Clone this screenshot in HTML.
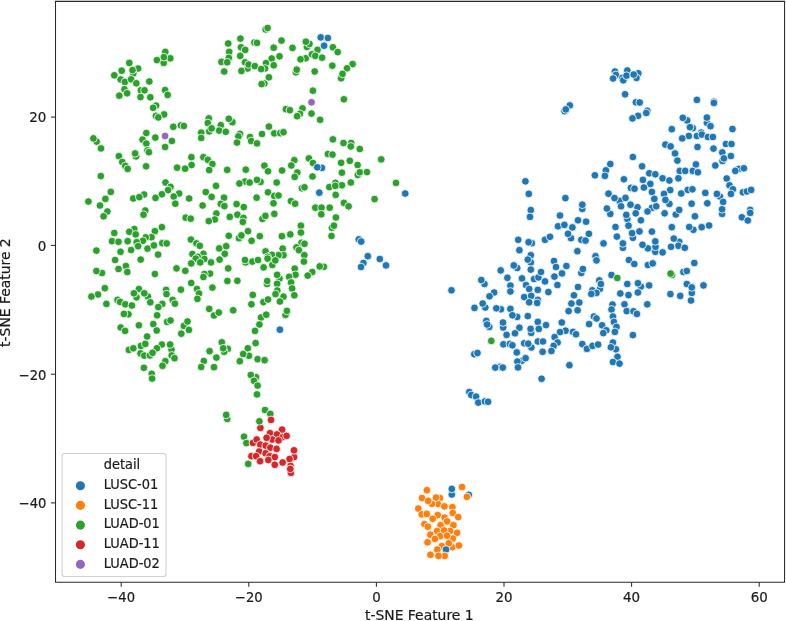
<!DOCTYPE html>
<html><head><meta charset="utf-8"><title>t-SNE scatter</title>
<style>html,body{margin:0;padding:0;background:#fff}svg{display:block}</style>
</head><body>
<svg width="786" height="621" viewBox="0 0 786 621">
<rect x="0" y="0" width="786" height="621" fill="#fff"/>
<g stroke="#fff" stroke-width="0.8">
<circle cx="165.3" cy="51.9" r="3.85" fill="#2ca02c"/>
<circle cx="170.3" cy="58.3" r="3.85" fill="#2ca02c"/>
<circle cx="156.9" cy="60.1" r="3.85" fill="#2ca02c"/>
<circle cx="163.7" cy="62.9" r="3.85" fill="#2ca02c"/>
<circle cx="163.9" cy="57.1" r="3.85" fill="#2ca02c"/>
<circle cx="129.3" cy="62.9" r="3.85" fill="#2ca02c"/>
<circle cx="138.1" cy="68.5" r="3.85" fill="#2ca02c"/>
<circle cx="133.3" cy="73.5" r="3.85" fill="#2ca02c"/>
<circle cx="132.5" cy="70.1" r="3.85" fill="#2ca02c"/>
<circle cx="121.7" cy="70.7" r="3.85" fill="#2ca02c"/>
<circle cx="114.3" cy="75.3" r="3.85" fill="#2ca02c"/>
<circle cx="120.7" cy="79.5" r="3.85" fill="#2ca02c"/>
<circle cx="124.9" cy="81.9" r="3.85" fill="#2ca02c"/>
<circle cx="131.1" cy="79.3" r="3.85" fill="#2ca02c"/>
<circle cx="136.3" cy="83.3" r="3.85" fill="#2ca02c"/>
<circle cx="149.3" cy="81.5" r="3.85" fill="#2ca02c"/>
<circle cx="124.5" cy="89.3" r="3.85" fill="#2ca02c"/>
<circle cx="127.1" cy="93.3" r="3.85" fill="#2ca02c"/>
<circle cx="119.3" cy="95.7" r="3.85" fill="#2ca02c"/>
<circle cx="140.9" cy="90.3" r="3.85" fill="#2ca02c"/>
<circle cx="144.5" cy="90.3" r="3.85" fill="#2ca02c"/>
<circle cx="140.5" cy="97.1" r="3.85" fill="#2ca02c"/>
<circle cx="150.3" cy="97.3" r="3.85" fill="#2ca02c"/>
<circle cx="165.1" cy="90.1" r="3.85" fill="#2ca02c"/>
<circle cx="167.7" cy="94.9" r="3.85" fill="#2ca02c"/>
<circle cx="156.1" cy="105.6" r="3.85" fill="#2ca02c"/>
<circle cx="153.1" cy="107.8" r="3.85" fill="#2ca02c"/>
<circle cx="164.1" cy="114.4" r="3.85" fill="#2ca02c"/>
<circle cx="155.9" cy="115.8" r="3.85" fill="#2ca02c"/>
<circle cx="158.3" cy="117.4" r="3.85" fill="#2ca02c"/>
<circle cx="173.3" cy="126.8" r="3.85" fill="#2ca02c"/>
<circle cx="180.9" cy="125.4" r="3.85" fill="#2ca02c"/>
<circle cx="183.9" cy="126.0" r="3.85" fill="#2ca02c"/>
<circle cx="146.3" cy="133.0" r="3.85" fill="#2ca02c"/>
<circle cx="228.2" cy="43.5" r="3.85" fill="#2ca02c"/>
<circle cx="229.2" cy="51.9" r="3.85" fill="#2ca02c"/>
<circle cx="228.8" cy="57.9" r="3.85" fill="#2ca02c"/>
<circle cx="221.4" cy="61.9" r="3.85" fill="#2ca02c"/>
<circle cx="227.2" cy="62.3" r="3.85" fill="#2ca02c"/>
<circle cx="224.2" cy="71.5" r="3.85" fill="#2ca02c"/>
<circle cx="208.8" cy="118.4" r="3.85" fill="#2ca02c"/>
<circle cx="207.8" cy="123.0" r="3.85" fill="#2ca02c"/>
<circle cx="209.2" cy="131.4" r="3.85" fill="#2ca02c"/>
<circle cx="211.6" cy="128.4" r="3.85" fill="#2ca02c"/>
<circle cx="220.8" cy="125.2" r="3.85" fill="#2ca02c"/>
<circle cx="219.2" cy="130.6" r="3.85" fill="#2ca02c"/>
<circle cx="201.2" cy="132.6" r="3.85" fill="#2ca02c"/>
<circle cx="225.8" cy="131.8" r="3.85" fill="#2ca02c"/>
<circle cx="232.4" cy="122.2" r="3.85" fill="#2ca02c"/>
<circle cx="228.8" cy="118.8" r="3.85" fill="#2ca02c"/>
<circle cx="265.6" cy="29.4" r="3.85" fill="#2ca02c"/>
<circle cx="267.6" cy="28.0" r="3.85" fill="#2ca02c"/>
<circle cx="240.4" cy="38.6" r="3.85" fill="#2ca02c"/>
<circle cx="254.4" cy="42.5" r="3.85" fill="#2ca02c"/>
<circle cx="257.0" cy="42.9" r="3.85" fill="#2ca02c"/>
<circle cx="281.5" cy="40.6" r="3.85" fill="#2ca02c"/>
<circle cx="241.0" cy="47.3" r="3.85" fill="#2ca02c"/>
<circle cx="245.2" cy="49.9" r="3.85" fill="#2ca02c"/>
<circle cx="273.7" cy="47.7" r="3.85" fill="#2ca02c"/>
<circle cx="292.5" cy="47.9" r="3.85" fill="#2ca02c"/>
<circle cx="306.9" cy="46.9" r="3.85" fill="#2ca02c"/>
<circle cx="309.5" cy="43.9" r="3.85" fill="#2ca02c"/>
<circle cx="305.9" cy="41.7" r="3.85" fill="#2ca02c"/>
<circle cx="317.5" cy="49.9" r="3.85" fill="#2ca02c"/>
<circle cx="332.9" cy="47.3" r="3.85" fill="#2ca02c"/>
<circle cx="337.7" cy="52.1" r="3.85" fill="#2ca02c"/>
<circle cx="240.2" cy="55.9" r="3.85" fill="#2ca02c"/>
<circle cx="279.5" cy="56.3" r="3.85" fill="#2ca02c"/>
<circle cx="271.7" cy="58.5" r="3.85" fill="#2ca02c"/>
<circle cx="266.0" cy="63.1" r="3.85" fill="#2ca02c"/>
<circle cx="273.7" cy="65.3" r="3.85" fill="#2ca02c"/>
<circle cx="245.0" cy="62.3" r="3.85" fill="#2ca02c"/>
<circle cx="247.6" cy="68.5" r="3.85" fill="#2ca02c"/>
<circle cx="248.6" cy="64.5" r="3.85" fill="#2ca02c"/>
<circle cx="241.4" cy="70.9" r="3.85" fill="#2ca02c"/>
<circle cx="254.8" cy="66.1" r="3.85" fill="#2ca02c"/>
<circle cx="265.0" cy="68.5" r="3.85" fill="#2ca02c"/>
<circle cx="261.2" cy="69.1" r="3.85" fill="#2ca02c"/>
<circle cx="305.7" cy="58.3" r="3.85" fill="#2ca02c"/>
<circle cx="300.5" cy="59.3" r="3.85" fill="#2ca02c"/>
<circle cx="311.9" cy="54.3" r="3.85" fill="#2ca02c"/>
<circle cx="315.3" cy="55.9" r="3.85" fill="#2ca02c"/>
<circle cx="322.1" cy="57.7" r="3.85" fill="#2ca02c"/>
<circle cx="332.3" cy="65.7" r="3.85" fill="#2ca02c"/>
<circle cx="352.6" cy="64.1" r="3.85" fill="#2ca02c"/>
<circle cx="347.0" cy="68.3" r="3.85" fill="#2ca02c"/>
<circle cx="341.1" cy="78.3" r="3.85" fill="#2ca02c"/>
<circle cx="342.5" cy="73.9" r="3.85" fill="#2ca02c"/>
<circle cx="295.9" cy="72.3" r="3.85" fill="#2ca02c"/>
<circle cx="296.7" cy="69.7" r="3.85" fill="#2ca02c"/>
<circle cx="314.7" cy="71.5" r="3.85" fill="#2ca02c"/>
<circle cx="268.9" cy="77.3" r="3.85" fill="#2ca02c"/>
<circle cx="264.4" cy="83.5" r="3.85" fill="#2ca02c"/>
<circle cx="261.6" cy="84.1" r="3.85" fill="#2ca02c"/>
<circle cx="312.9" cy="90.7" r="3.85" fill="#2ca02c"/>
<circle cx="343.9" cy="99.3" r="3.85" fill="#2ca02c"/>
<circle cx="285.9" cy="109.2" r="3.85" fill="#2ca02c"/>
<circle cx="289.9" cy="110.2" r="3.85" fill="#2ca02c"/>
<circle cx="302.5" cy="108.4" r="3.85" fill="#2ca02c"/>
<circle cx="299.9" cy="113.8" r="3.85" fill="#2ca02c"/>
<circle cx="297.1" cy="116.2" r="3.85" fill="#2ca02c"/>
<circle cx="311.5" cy="113.6" r="3.85" fill="#2ca02c"/>
<circle cx="320.1" cy="119.8" r="3.85" fill="#2ca02c"/>
<circle cx="268.9" cy="126.6" r="3.85" fill="#2ca02c"/>
<circle cx="240.0" cy="133.8" r="3.85" fill="#2ca02c"/>
<circle cx="262.0" cy="134.0" r="3.85" fill="#2ca02c"/>
<circle cx="274.3" cy="133.4" r="3.85" fill="#2ca02c"/>
<circle cx="280.3" cy="133.2" r="3.85" fill="#2ca02c"/>
<circle cx="283.5" cy="132.2" r="3.85" fill="#2ca02c"/>
<circle cx="320.7" cy="37.4" r="3.85" fill="#1f77b4"/>
<circle cx="327.9" cy="38.0" r="3.85" fill="#1f77b4"/>
<circle cx="324.1" cy="45.7" r="3.85" fill="#1f77b4"/>
<circle cx="311.5" cy="102.3" r="3.85" fill="#9467bd"/>
<circle cx="165.1" cy="136.0" r="3.85" fill="#9467bd"/>
<circle cx="96.6" cy="141.6" r="3.85" fill="#2ca02c"/>
<circle cx="93.4" cy="138.4" r="3.85" fill="#2ca02c"/>
<circle cx="101.0" cy="148.4" r="3.85" fill="#2ca02c"/>
<circle cx="142.5" cy="139.6" r="3.85" fill="#2ca02c"/>
<circle cx="146.3" cy="143.6" r="3.85" fill="#2ca02c"/>
<circle cx="155.3" cy="137.6" r="3.85" fill="#2ca02c"/>
<circle cx="171.9" cy="141.0" r="3.85" fill="#2ca02c"/>
<circle cx="165.1" cy="147.0" r="3.85" fill="#2ca02c"/>
<circle cx="147.5" cy="150.4" r="3.85" fill="#2ca02c"/>
<circle cx="148.9" cy="152.2" r="3.85" fill="#2ca02c"/>
<circle cx="201.2" cy="138.0" r="3.85" fill="#2ca02c"/>
<circle cx="136.1" cy="156.4" r="3.85" fill="#2ca02c"/>
<circle cx="135.1" cy="153.4" r="3.85" fill="#2ca02c"/>
<circle cx="118.9" cy="156.2" r="3.85" fill="#2ca02c"/>
<circle cx="122.3" cy="162.0" r="3.85" fill="#2ca02c"/>
<circle cx="125.3" cy="165.9" r="3.85" fill="#2ca02c"/>
<circle cx="127.7" cy="168.9" r="3.85" fill="#2ca02c"/>
<circle cx="146.1" cy="166.3" r="3.85" fill="#2ca02c"/>
<circle cx="191.4" cy="157.2" r="3.85" fill="#2ca02c"/>
<circle cx="191.6" cy="165.0" r="3.85" fill="#2ca02c"/>
<circle cx="177.1" cy="167.7" r="3.85" fill="#2ca02c"/>
<circle cx="185.1" cy="168.7" r="3.85" fill="#2ca02c"/>
<circle cx="203.4" cy="157.2" r="3.85" fill="#2ca02c"/>
<circle cx="207.8" cy="159.8" r="3.85" fill="#2ca02c"/>
<circle cx="212.4" cy="164.0" r="3.85" fill="#2ca02c"/>
<circle cx="209.2" cy="170.1" r="3.85" fill="#2ca02c"/>
<circle cx="227.2" cy="169.9" r="3.85" fill="#2ca02c"/>
<circle cx="100.8" cy="176.1" r="3.85" fill="#2ca02c"/>
<circle cx="165.5" cy="182.5" r="3.85" fill="#2ca02c"/>
<circle cx="170.5" cy="186.9" r="3.85" fill="#2ca02c"/>
<circle cx="168.1" cy="190.1" r="3.85" fill="#2ca02c"/>
<circle cx="161.9" cy="194.3" r="3.85" fill="#2ca02c"/>
<circle cx="155.5" cy="197.9" r="3.85" fill="#2ca02c"/>
<circle cx="179.1" cy="193.5" r="3.85" fill="#2ca02c"/>
<circle cx="173.7" cy="196.5" r="3.85" fill="#2ca02c"/>
<circle cx="175.3" cy="203.7" r="3.85" fill="#2ca02c"/>
<circle cx="189.1" cy="198.5" r="3.85" fill="#2ca02c"/>
<circle cx="216.0" cy="185.9" r="3.85" fill="#2ca02c"/>
<circle cx="205.8" cy="192.1" r="3.85" fill="#2ca02c"/>
<circle cx="211.6" cy="196.9" r="3.85" fill="#2ca02c"/>
<circle cx="224.0" cy="197.7" r="3.85" fill="#2ca02c"/>
<circle cx="110.8" cy="191.9" r="3.85" fill="#2ca02c"/>
<circle cx="105.4" cy="198.9" r="3.85" fill="#2ca02c"/>
<circle cx="88.4" cy="201.5" r="3.85" fill="#2ca02c"/>
<circle cx="100.0" cy="205.5" r="3.85" fill="#2ca02c"/>
<circle cx="107.4" cy="211.5" r="3.85" fill="#2ca02c"/>
<circle cx="103.6" cy="216.3" r="3.85" fill="#2ca02c"/>
<circle cx="144.1" cy="194.5" r="3.85" fill="#2ca02c"/>
<circle cx="133.3" cy="198.5" r="3.85" fill="#2ca02c"/>
<circle cx="139.3" cy="197.1" r="3.85" fill="#2ca02c"/>
<circle cx="145.3" cy="210.5" r="3.85" fill="#2ca02c"/>
<circle cx="143.5" cy="214.7" r="3.85" fill="#2ca02c"/>
<circle cx="202.6" cy="205.5" r="3.85" fill="#2ca02c"/>
<circle cx="220.8" cy="203.9" r="3.85" fill="#2ca02c"/>
<circle cx="224.4" cy="206.1" r="3.85" fill="#2ca02c"/>
<circle cx="216.4" cy="213.5" r="3.85" fill="#2ca02c"/>
<circle cx="214.8" cy="219.5" r="3.85" fill="#2ca02c"/>
<circle cx="208.8" cy="221.1" r="3.85" fill="#2ca02c"/>
<circle cx="185.7" cy="217.7" r="3.85" fill="#2ca02c"/>
<circle cx="190.7" cy="218.7" r="3.85" fill="#2ca02c"/>
<circle cx="229.8" cy="216.9" r="3.85" fill="#2ca02c"/>
<circle cx="161.9" cy="227.2" r="3.85" fill="#2ca02c"/>
<circle cx="154.9" cy="231.2" r="3.85" fill="#2ca02c"/>
<circle cx="134.3" cy="229.0" r="3.85" fill="#2ca02c"/>
<circle cx="129.3" cy="231.8" r="3.85" fill="#2ca02c"/>
<circle cx="135.7" cy="234.4" r="3.85" fill="#2ca02c"/>
<circle cx="114.3" cy="233.0" r="3.85" fill="#2ca02c"/>
<circle cx="112.0" cy="241.2" r="3.85" fill="#2ca02c"/>
<circle cx="118.5" cy="241.8" r="3.85" fill="#2ca02c"/>
<circle cx="127.7" cy="241.2" r="3.85" fill="#2ca02c"/>
<circle cx="151.5" cy="237.2" r="3.85" fill="#2ca02c"/>
<circle cx="145.7" cy="237.4" r="3.85" fill="#2ca02c"/>
<circle cx="142.9" cy="240.8" r="3.85" fill="#2ca02c"/>
<circle cx="136.7" cy="242.2" r="3.85" fill="#2ca02c"/>
<circle cx="138.1" cy="246.2" r="3.85" fill="#2ca02c"/>
<circle cx="131.1" cy="250.0" r="3.85" fill="#2ca02c"/>
<circle cx="120.5" cy="251.8" r="3.85" fill="#2ca02c"/>
<circle cx="96.4" cy="250.6" r="3.85" fill="#2ca02c"/>
<circle cx="147.5" cy="248.6" r="3.85" fill="#2ca02c"/>
<circle cx="153.9" cy="245.4" r="3.85" fill="#2ca02c"/>
<circle cx="162.3" cy="243.2" r="3.85" fill="#2ca02c"/>
<circle cx="166.7" cy="243.4" r="3.85" fill="#2ca02c"/>
<circle cx="158.1" cy="254.6" r="3.85" fill="#2ca02c"/>
<circle cx="190.9" cy="239.6" r="3.85" fill="#2ca02c"/>
<circle cx="196.4" cy="243.4" r="3.85" fill="#2ca02c"/>
<circle cx="199.8" cy="245.8" r="3.85" fill="#2ca02c"/>
<circle cx="192.4" cy="254.0" r="3.85" fill="#2ca02c"/>
<circle cx="203.4" cy="253.8" r="3.85" fill="#2ca02c"/>
<circle cx="197.8" cy="256.8" r="3.85" fill="#2ca02c"/>
<circle cx="219.2" cy="248.4" r="3.85" fill="#2ca02c"/>
<circle cx="226.2" cy="246.2" r="3.85" fill="#2ca02c"/>
<circle cx="224.8" cy="253.8" r="3.85" fill="#2ca02c"/>
<circle cx="228.8" cy="235.8" r="3.85" fill="#2ca02c"/>
<circle cx="238.4" cy="136.4" r="3.85" fill="#2ca02c"/>
<circle cx="237.0" cy="142.6" r="3.85" fill="#2ca02c"/>
<circle cx="250.0" cy="137.0" r="3.85" fill="#2ca02c"/>
<circle cx="251.2" cy="141.0" r="3.85" fill="#2ca02c"/>
<circle cx="257.0" cy="143.4" r="3.85" fill="#2ca02c"/>
<circle cx="332.9" cy="139.4" r="3.85" fill="#2ca02c"/>
<circle cx="343.5" cy="143.0" r="3.85" fill="#2ca02c"/>
<circle cx="351.2" cy="143.0" r="3.85" fill="#2ca02c"/>
<circle cx="350.8" cy="146.4" r="3.85" fill="#2ca02c"/>
<circle cx="359.8" cy="149.0" r="3.85" fill="#2ca02c"/>
<circle cx="327.9" cy="154.0" r="3.85" fill="#2ca02c"/>
<circle cx="332.5" cy="154.6" r="3.85" fill="#2ca02c"/>
<circle cx="381.2" cy="159.4" r="3.85" fill="#2ca02c"/>
<circle cx="308.9" cy="158.4" r="3.85" fill="#2ca02c"/>
<circle cx="312.9" cy="163.0" r="3.85" fill="#2ca02c"/>
<circle cx="294.3" cy="160.2" r="3.85" fill="#2ca02c"/>
<circle cx="291.3" cy="165.5" r="3.85" fill="#2ca02c"/>
<circle cx="264.4" cy="165.7" r="3.85" fill="#2ca02c"/>
<circle cx="268.0" cy="171.3" r="3.85" fill="#2ca02c"/>
<circle cx="245.8" cy="169.7" r="3.85" fill="#2ca02c"/>
<circle cx="282.1" cy="170.5" r="3.85" fill="#2ca02c"/>
<circle cx="297.3" cy="172.5" r="3.85" fill="#2ca02c"/>
<circle cx="294.7" cy="176.9" r="3.85" fill="#2ca02c"/>
<circle cx="312.5" cy="176.5" r="3.85" fill="#2ca02c"/>
<circle cx="341.1" cy="162.8" r="3.85" fill="#2ca02c"/>
<circle cx="349.8" cy="160.8" r="3.85" fill="#2ca02c"/>
<circle cx="357.6" cy="165.0" r="3.85" fill="#2ca02c"/>
<circle cx="341.9" cy="172.7" r="3.85" fill="#2ca02c"/>
<circle cx="357.8" cy="174.9" r="3.85" fill="#2ca02c"/>
<circle cx="359.8" cy="172.3" r="3.85" fill="#2ca02c"/>
<circle cx="367.0" cy="172.1" r="3.85" fill="#2ca02c"/>
<circle cx="245.0" cy="181.5" r="3.85" fill="#2ca02c"/>
<circle cx="239.4" cy="183.5" r="3.85" fill="#2ca02c"/>
<circle cx="249.6" cy="182.5" r="3.85" fill="#2ca02c"/>
<circle cx="260.6" cy="181.9" r="3.85" fill="#2ca02c"/>
<circle cx="257.0" cy="179.9" r="3.85" fill="#2ca02c"/>
<circle cx="276.7" cy="182.5" r="3.85" fill="#2ca02c"/>
<circle cx="301.9" cy="188.3" r="3.85" fill="#2ca02c"/>
<circle cx="304.5" cy="187.3" r="3.85" fill="#2ca02c"/>
<circle cx="350.8" cy="182.5" r="3.85" fill="#2ca02c"/>
<circle cx="329.3" cy="187.1" r="3.85" fill="#2ca02c"/>
<circle cx="335.5" cy="182.9" r="3.85" fill="#2ca02c"/>
<circle cx="341.9" cy="185.3" r="3.85" fill="#2ca02c"/>
<circle cx="335.3" cy="185.9" r="3.85" fill="#2ca02c"/>
<circle cx="335.7" cy="194.9" r="3.85" fill="#2ca02c"/>
<circle cx="268.0" cy="192.3" r="3.85" fill="#2ca02c"/>
<circle cx="256.6" cy="197.7" r="3.85" fill="#2ca02c"/>
<circle cx="274.3" cy="195.9" r="3.85" fill="#2ca02c"/>
<circle cx="278.5" cy="195.5" r="3.85" fill="#2ca02c"/>
<circle cx="273.5" cy="203.3" r="3.85" fill="#2ca02c"/>
<circle cx="290.9" cy="201.1" r="3.85" fill="#2ca02c"/>
<circle cx="295.1" cy="203.7" r="3.85" fill="#2ca02c"/>
<circle cx="374.6" cy="199.1" r="3.85" fill="#2ca02c"/>
<circle cx="343.9" cy="202.9" r="3.85" fill="#2ca02c"/>
<circle cx="348.6" cy="206.3" r="3.85" fill="#2ca02c"/>
<circle cx="236.6" cy="204.1" r="3.85" fill="#2ca02c"/>
<circle cx="243.8" cy="207.1" r="3.85" fill="#2ca02c"/>
<circle cx="315.3" cy="207.7" r="3.85" fill="#2ca02c"/>
<circle cx="321.5" cy="207.7" r="3.85" fill="#2ca02c"/>
<circle cx="329.7" cy="207.7" r="3.85" fill="#2ca02c"/>
<circle cx="321.3" cy="214.3" r="3.85" fill="#2ca02c"/>
<circle cx="237.4" cy="214.7" r="3.85" fill="#2ca02c"/>
<circle cx="243.4" cy="217.9" r="3.85" fill="#2ca02c"/>
<circle cx="242.8" cy="221.9" r="3.85" fill="#2ca02c"/>
<circle cx="274.3" cy="213.9" r="3.85" fill="#2ca02c"/>
<circle cx="262.4" cy="218.9" r="3.85" fill="#2ca02c"/>
<circle cx="265.4" cy="215.9" r="3.85" fill="#2ca02c"/>
<circle cx="335.9" cy="217.5" r="3.85" fill="#2ca02c"/>
<circle cx="331.9" cy="227.8" r="3.85" fill="#2ca02c"/>
<circle cx="333.9" cy="225.7" r="3.85" fill="#2ca02c"/>
<circle cx="300.9" cy="225.7" r="3.85" fill="#2ca02c"/>
<circle cx="300.9" cy="232.6" r="3.85" fill="#2ca02c"/>
<circle cx="331.5" cy="236.0" r="3.85" fill="#2ca02c"/>
<circle cx="290.3" cy="234.4" r="3.85" fill="#2ca02c"/>
<circle cx="281.9" cy="236.2" r="3.85" fill="#2ca02c"/>
<circle cx="259.8" cy="236.2" r="3.85" fill="#2ca02c"/>
<circle cx="248.0" cy="231.2" r="3.85" fill="#2ca02c"/>
<circle cx="239.0" cy="238.2" r="3.85" fill="#2ca02c"/>
<circle cx="241.4" cy="235.4" r="3.85" fill="#2ca02c"/>
<circle cx="251.6" cy="240.8" r="3.85" fill="#2ca02c"/>
<circle cx="301.5" cy="242.8" r="3.85" fill="#2ca02c"/>
<circle cx="304.5" cy="243.8" r="3.85" fill="#2ca02c"/>
<circle cx="296.5" cy="247.4" r="3.85" fill="#2ca02c"/>
<circle cx="298.9" cy="250.2" r="3.85" fill="#2ca02c"/>
<circle cx="282.7" cy="248.6" r="3.85" fill="#2ca02c"/>
<circle cx="265.6" cy="251.4" r="3.85" fill="#2ca02c"/>
<circle cx="304.3" cy="255.2" r="3.85" fill="#2ca02c"/>
<circle cx="283.5" cy="255.2" r="3.85" fill="#2ca02c"/>
<circle cx="278.5" cy="255.2" r="3.85" fill="#2ca02c"/>
<circle cx="271.9" cy="254.8" r="3.85" fill="#2ca02c"/>
<circle cx="267.6" cy="256.8" r="3.85" fill="#2ca02c"/>
<circle cx="321.9" cy="167.9" r="3.85" fill="#1f77b4"/>
<circle cx="317.3" cy="167.3" r="3.85" fill="#1f77b4"/>
<circle cx="319.3" cy="192.7" r="3.85" fill="#1f77b4"/>
<circle cx="358.8" cy="239.4" r="3.85" fill="#1f77b4"/>
<circle cx="361.2" cy="241.6" r="3.85" fill="#1f77b4"/>
<circle cx="367.8" cy="256.2" r="3.85" fill="#1f77b4"/>
<circle cx="396.0" cy="182.9" r="3.85" fill="#2ca02c"/>
<circle cx="405.2" cy="193.5" r="3.85" fill="#1f77b4"/>
<circle cx="525.4" cy="181.3" r="3.85" fill="#1f77b4"/>
<circle cx="528.8" cy="193.9" r="3.85" fill="#1f77b4"/>
<circle cx="530.8" cy="210.1" r="3.85" fill="#1f77b4"/>
<circle cx="530.0" cy="216.9" r="3.85" fill="#1f77b4"/>
<circle cx="518.2" cy="239.8" r="3.85" fill="#1f77b4"/>
<circle cx="531.8" cy="243.2" r="3.85" fill="#1f77b4"/>
<circle cx="528.6" cy="242.2" r="3.85" fill="#1f77b4"/>
<circle cx="519.4" cy="250.2" r="3.85" fill="#1f77b4"/>
<circle cx="530.8" cy="255.2" r="3.85" fill="#1f77b4"/>
<circle cx="115.1" cy="260.0" r="3.85" fill="#2ca02c"/>
<circle cx="140.7" cy="259.6" r="3.85" fill="#2ca02c"/>
<circle cx="195.8" cy="258.6" r="3.85" fill="#2ca02c"/>
<circle cx="204.4" cy="259.0" r="3.85" fill="#2ca02c"/>
<circle cx="200.2" cy="262.4" r="3.85" fill="#2ca02c"/>
<circle cx="191.2" cy="263.4" r="3.85" fill="#2ca02c"/>
<circle cx="211.0" cy="262.4" r="3.85" fill="#2ca02c"/>
<circle cx="219.6" cy="259.6" r="3.85" fill="#2ca02c"/>
<circle cx="228.2" cy="268.4" r="3.85" fill="#2ca02c"/>
<circle cx="176.5" cy="268.4" r="3.85" fill="#2ca02c"/>
<circle cx="185.3" cy="270.8" r="3.85" fill="#2ca02c"/>
<circle cx="210.0" cy="273.6" r="3.85" fill="#2ca02c"/>
<circle cx="204.4" cy="274.0" r="3.85" fill="#2ca02c"/>
<circle cx="203.4" cy="277.0" r="3.85" fill="#2ca02c"/>
<circle cx="125.9" cy="266.0" r="3.85" fill="#2ca02c"/>
<circle cx="118.5" cy="269.0" r="3.85" fill="#2ca02c"/>
<circle cx="127.3" cy="272.0" r="3.85" fill="#2ca02c"/>
<circle cx="102.0" cy="273.0" r="3.85" fill="#2ca02c"/>
<circle cx="96.4" cy="271.0" r="3.85" fill="#2ca02c"/>
<circle cx="154.9" cy="274.0" r="3.85" fill="#2ca02c"/>
<circle cx="191.2" cy="283.0" r="3.85" fill="#2ca02c"/>
<circle cx="212.4" cy="287.6" r="3.85" fill="#2ca02c"/>
<circle cx="227.4" cy="281.0" r="3.85" fill="#2ca02c"/>
<circle cx="197.0" cy="289.0" r="3.85" fill="#2ca02c"/>
<circle cx="199.0" cy="293.5" r="3.85" fill="#2ca02c"/>
<circle cx="197.4" cy="298.9" r="3.85" fill="#2ca02c"/>
<circle cx="180.9" cy="289.7" r="3.85" fill="#2ca02c"/>
<circle cx="166.1" cy="289.9" r="3.85" fill="#2ca02c"/>
<circle cx="166.5" cy="294.1" r="3.85" fill="#2ca02c"/>
<circle cx="172.7" cy="299.9" r="3.85" fill="#2ca02c"/>
<circle cx="174.9" cy="303.7" r="3.85" fill="#2ca02c"/>
<circle cx="104.8" cy="288.2" r="3.85" fill="#2ca02c"/>
<circle cx="98.0" cy="294.5" r="3.85" fill="#2ca02c"/>
<circle cx="91.4" cy="296.5" r="3.85" fill="#2ca02c"/>
<circle cx="106.4" cy="303.9" r="3.85" fill="#2ca02c"/>
<circle cx="138.9" cy="289.0" r="3.85" fill="#2ca02c"/>
<circle cx="136.5" cy="297.3" r="3.85" fill="#2ca02c"/>
<circle cx="133.9" cy="293.3" r="3.85" fill="#2ca02c"/>
<circle cx="147.9" cy="296.5" r="3.85" fill="#2ca02c"/>
<circle cx="144.3" cy="293.3" r="3.85" fill="#2ca02c"/>
<circle cx="150.3" cy="302.3" r="3.85" fill="#2ca02c"/>
<circle cx="117.5" cy="299.9" r="3.85" fill="#2ca02c"/>
<circle cx="120.1" cy="301.9" r="3.85" fill="#2ca02c"/>
<circle cx="125.3" cy="304.3" r="3.85" fill="#2ca02c"/>
<circle cx="131.9" cy="305.5" r="3.85" fill="#2ca02c"/>
<circle cx="162.3" cy="303.9" r="3.85" fill="#2ca02c"/>
<circle cx="158.3" cy="307.1" r="3.85" fill="#2ca02c"/>
<circle cx="157.1" cy="315.3" r="3.85" fill="#2ca02c"/>
<circle cx="128.5" cy="314.3" r="3.85" fill="#2ca02c"/>
<circle cx="123.9" cy="313.9" r="3.85" fill="#2ca02c"/>
<circle cx="209.2" cy="308.9" r="3.85" fill="#2ca02c"/>
<circle cx="214.0" cy="315.5" r="3.85" fill="#2ca02c"/>
<circle cx="218.8" cy="312.5" r="3.85" fill="#2ca02c"/>
<circle cx="167.1" cy="321.9" r="3.85" fill="#2ca02c"/>
<circle cx="170.5" cy="320.5" r="3.85" fill="#2ca02c"/>
<circle cx="183.9" cy="325.9" r="3.85" fill="#2ca02c"/>
<circle cx="187.5" cy="321.5" r="3.85" fill="#2ca02c"/>
<circle cx="188.9" cy="329.9" r="3.85" fill="#2ca02c"/>
<circle cx="181.3" cy="333.7" r="3.85" fill="#2ca02c"/>
<circle cx="138.9" cy="325.3" r="3.85" fill="#2ca02c"/>
<circle cx="153.3" cy="324.1" r="3.85" fill="#2ca02c"/>
<circle cx="156.7" cy="330.5" r="3.85" fill="#2ca02c"/>
<circle cx="120.7" cy="327.5" r="3.85" fill="#2ca02c"/>
<circle cx="125.1" cy="330.9" r="3.85" fill="#2ca02c"/>
<circle cx="147.1" cy="336.5" r="3.85" fill="#2ca02c"/>
<circle cx="140.9" cy="345.9" r="3.85" fill="#2ca02c"/>
<circle cx="145.3" cy="343.9" r="3.85" fill="#2ca02c"/>
<circle cx="161.9" cy="344.5" r="3.85" fill="#2ca02c"/>
<circle cx="156.9" cy="348.3" r="3.85" fill="#2ca02c"/>
<circle cx="171.5" cy="349.5" r="3.85" fill="#2ca02c"/>
<circle cx="170.1" cy="344.5" r="3.85" fill="#2ca02c"/>
<circle cx="128.9" cy="349.9" r="3.85" fill="#2ca02c"/>
<circle cx="133.3" cy="348.3" r="3.85" fill="#2ca02c"/>
<circle cx="140.5" cy="353.4" r="3.85" fill="#2ca02c"/>
<circle cx="144.3" cy="355.6" r="3.85" fill="#2ca02c"/>
<circle cx="149.9" cy="355.4" r="3.85" fill="#2ca02c"/>
<circle cx="152.5" cy="352.8" r="3.85" fill="#2ca02c"/>
<circle cx="171.7" cy="355.4" r="3.85" fill="#2ca02c"/>
<circle cx="174.5" cy="358.2" r="3.85" fill="#2ca02c"/>
<circle cx="165.3" cy="361.2" r="3.85" fill="#2ca02c"/>
<circle cx="162.5" cy="365.8" r="3.85" fill="#2ca02c"/>
<circle cx="143.9" cy="367.8" r="3.85" fill="#2ca02c"/>
<circle cx="151.7" cy="373.8" r="3.85" fill="#2ca02c"/>
<circle cx="152.1" cy="378.6" r="3.85" fill="#2ca02c"/>
<circle cx="221.8" cy="342.3" r="3.85" fill="#2ca02c"/>
<circle cx="227.8" cy="348.9" r="3.85" fill="#2ca02c"/>
<circle cx="224.2" cy="351.8" r="3.85" fill="#2ca02c"/>
<circle cx="223.2" cy="348.3" r="3.85" fill="#2ca02c"/>
<circle cx="209.6" cy="351.2" r="3.85" fill="#2ca02c"/>
<circle cx="216.4" cy="357.6" r="3.85" fill="#2ca02c"/>
<circle cx="203.8" cy="361.0" r="3.85" fill="#2ca02c"/>
<circle cx="201.2" cy="367.0" r="3.85" fill="#2ca02c"/>
<circle cx="214.0" cy="367.2" r="3.85" fill="#2ca02c"/>
<circle cx="245.6" cy="262.4" r="3.85" fill="#2ca02c"/>
<circle cx="245.0" cy="260.0" r="3.85" fill="#2ca02c"/>
<circle cx="252.4" cy="261.6" r="3.85" fill="#2ca02c"/>
<circle cx="258.0" cy="260.0" r="3.85" fill="#2ca02c"/>
<circle cx="267.6" cy="258.6" r="3.85" fill="#2ca02c"/>
<circle cx="272.3" cy="265.0" r="3.85" fill="#2ca02c"/>
<circle cx="275.3" cy="260.4" r="3.85" fill="#2ca02c"/>
<circle cx="263.6" cy="267.4" r="3.85" fill="#2ca02c"/>
<circle cx="303.9" cy="261.6" r="3.85" fill="#2ca02c"/>
<circle cx="323.9" cy="266.8" r="3.85" fill="#2ca02c"/>
<circle cx="319.7" cy="266.4" r="3.85" fill="#2ca02c"/>
<circle cx="294.7" cy="268.6" r="3.85" fill="#2ca02c"/>
<circle cx="295.5" cy="274.8" r="3.85" fill="#2ca02c"/>
<circle cx="289.1" cy="276.8" r="3.85" fill="#2ca02c"/>
<circle cx="312.3" cy="272.0" r="3.85" fill="#2ca02c"/>
<circle cx="307.7" cy="275.6" r="3.85" fill="#2ca02c"/>
<circle cx="279.5" cy="278.6" r="3.85" fill="#2ca02c"/>
<circle cx="277.1" cy="274.8" r="3.85" fill="#2ca02c"/>
<circle cx="277.1" cy="283.8" r="3.85" fill="#2ca02c"/>
<circle cx="291.1" cy="282.4" r="3.85" fill="#2ca02c"/>
<circle cx="292.1" cy="288.4" r="3.85" fill="#2ca02c"/>
<circle cx="294.3" cy="295.3" r="3.85" fill="#2ca02c"/>
<circle cx="267.0" cy="284.0" r="3.85" fill="#2ca02c"/>
<circle cx="267.2" cy="281.0" r="3.85" fill="#2ca02c"/>
<circle cx="237.4" cy="280.8" r="3.85" fill="#2ca02c"/>
<circle cx="252.8" cy="294.9" r="3.85" fill="#2ca02c"/>
<circle cx="277.3" cy="290.5" r="3.85" fill="#2ca02c"/>
<circle cx="275.5" cy="294.1" r="3.85" fill="#2ca02c"/>
<circle cx="283.5" cy="296.7" r="3.85" fill="#2ca02c"/>
<circle cx="279.9" cy="301.5" r="3.85" fill="#2ca02c"/>
<circle cx="263.4" cy="302.1" r="3.85" fill="#2ca02c"/>
<circle cx="268.0" cy="299.5" r="3.85" fill="#2ca02c"/>
<circle cx="251.4" cy="304.3" r="3.85" fill="#2ca02c"/>
<circle cx="233.2" cy="310.3" r="3.85" fill="#2ca02c"/>
<circle cx="285.5" cy="314.9" r="3.85" fill="#2ca02c"/>
<circle cx="286.9" cy="310.9" r="3.85" fill="#2ca02c"/>
<circle cx="261.0" cy="317.5" r="3.85" fill="#2ca02c"/>
<circle cx="266.2" cy="314.7" r="3.85" fill="#2ca02c"/>
<circle cx="259.4" cy="324.5" r="3.85" fill="#2ca02c"/>
<circle cx="255.0" cy="330.9" r="3.85" fill="#2ca02c"/>
<circle cx="255.6" cy="343.1" r="3.85" fill="#2ca02c"/>
<circle cx="247.8" cy="348.3" r="3.85" fill="#2ca02c"/>
<circle cx="249.0" cy="355.8" r="3.85" fill="#2ca02c"/>
<circle cx="243.2" cy="354.0" r="3.85" fill="#2ca02c"/>
<circle cx="239.8" cy="361.2" r="3.85" fill="#2ca02c"/>
<circle cx="257.6" cy="359.2" r="3.85" fill="#2ca02c"/>
<circle cx="264.6" cy="360.2" r="3.85" fill="#2ca02c"/>
<circle cx="256.0" cy="377.2" r="3.85" fill="#2ca02c"/>
<circle cx="250.8" cy="375.0" r="3.85" fill="#2ca02c"/>
<circle cx="254.0" cy="380.8" r="3.85" fill="#2ca02c"/>
<circle cx="279.9" cy="329.7" r="3.85" fill="#1f77b4"/>
<circle cx="363.4" cy="263.0" r="3.85" fill="#1f77b4"/>
<circle cx="361.0" cy="267.0" r="3.85" fill="#1f77b4"/>
<circle cx="379.8" cy="259.0" r="3.85" fill="#1f77b4"/>
<circle cx="491.3" cy="340.9" r="3.85" fill="#2ca02c"/>
<circle cx="386.0" cy="265.4" r="3.85" fill="#1f77b4"/>
<circle cx="451.5" cy="290.3" r="3.85" fill="#1f77b4"/>
<circle cx="530.8" cy="262.4" r="3.85" fill="#1f77b4"/>
<circle cx="527.8" cy="259.6" r="3.85" fill="#1f77b4"/>
<circle cx="517.2" cy="268.0" r="3.85" fill="#1f77b4"/>
<circle cx="513.8" cy="265.4" r="3.85" fill="#1f77b4"/>
<circle cx="500.7" cy="270.4" r="3.85" fill="#1f77b4"/>
<circle cx="530.8" cy="269.6" r="3.85" fill="#1f77b4"/>
<circle cx="507.4" cy="277.8" r="3.85" fill="#1f77b4"/>
<circle cx="522.0" cy="278.4" r="3.85" fill="#1f77b4"/>
<circle cx="534.0" cy="279.0" r="3.85" fill="#1f77b4"/>
<circle cx="538.4" cy="277.4" r="3.85" fill="#1f77b4"/>
<circle cx="484.5" cy="284.0" r="3.85" fill="#1f77b4"/>
<circle cx="481.3" cy="280.0" r="3.85" fill="#1f77b4"/>
<circle cx="510.4" cy="285.6" r="3.85" fill="#1f77b4"/>
<circle cx="510.4" cy="291.5" r="3.85" fill="#1f77b4"/>
<circle cx="526.0" cy="285.0" r="3.85" fill="#1f77b4"/>
<circle cx="529.2" cy="289.0" r="3.85" fill="#1f77b4"/>
<circle cx="537.8" cy="289.9" r="3.85" fill="#1f77b4"/>
<circle cx="494.1" cy="292.5" r="3.85" fill="#1f77b4"/>
<circle cx="489.5" cy="296.3" r="3.85" fill="#1f77b4"/>
<circle cx="524.2" cy="297.1" r="3.85" fill="#1f77b4"/>
<circle cx="531.2" cy="295.9" r="3.85" fill="#1f77b4"/>
<circle cx="529.2" cy="302.3" r="3.85" fill="#1f77b4"/>
<circle cx="537.8" cy="299.9" r="3.85" fill="#1f77b4"/>
<circle cx="537.2" cy="302.9" r="3.85" fill="#1f77b4"/>
<circle cx="485.3" cy="307.5" r="3.85" fill="#1f77b4"/>
<circle cx="482.7" cy="303.5" r="3.85" fill="#1f77b4"/>
<circle cx="474.5" cy="307.9" r="3.85" fill="#1f77b4"/>
<circle cx="500.9" cy="309.3" r="3.85" fill="#1f77b4"/>
<circle cx="496.3" cy="308.3" r="3.85" fill="#1f77b4"/>
<circle cx="510.4" cy="308.9" r="3.85" fill="#1f77b4"/>
<circle cx="517.2" cy="316.9" r="3.85" fill="#1f77b4"/>
<circle cx="512.4" cy="315.3" r="3.85" fill="#1f77b4"/>
<circle cx="527.8" cy="316.1" r="3.85" fill="#1f77b4"/>
<circle cx="486.3" cy="320.9" r="3.85" fill="#1f77b4"/>
<circle cx="489.3" cy="326.9" r="3.85" fill="#1f77b4"/>
<circle cx="487.1" cy="324.5" r="3.85" fill="#1f77b4"/>
<circle cx="503.2" cy="327.5" r="3.85" fill="#1f77b4"/>
<circle cx="503.0" cy="322.5" r="3.85" fill="#1f77b4"/>
<circle cx="537.8" cy="321.9" r="3.85" fill="#1f77b4"/>
<circle cx="519.4" cy="327.7" r="3.85" fill="#1f77b4"/>
<circle cx="531.2" cy="332.9" r="3.85" fill="#1f77b4"/>
<circle cx="530.6" cy="328.9" r="3.85" fill="#1f77b4"/>
<circle cx="538.8" cy="328.9" r="3.85" fill="#1f77b4"/>
<circle cx="515.0" cy="333.3" r="3.85" fill="#1f77b4"/>
<circle cx="506.6" cy="334.9" r="3.85" fill="#1f77b4"/>
<circle cx="503.4" cy="344.3" r="3.85" fill="#1f77b4"/>
<circle cx="509.8" cy="343.9" r="3.85" fill="#1f77b4"/>
<circle cx="512.4" cy="345.3" r="3.85" fill="#1f77b4"/>
<circle cx="524.2" cy="343.3" r="3.85" fill="#1f77b4"/>
<circle cx="531.4" cy="347.5" r="3.85" fill="#1f77b4"/>
<circle cx="528.2" cy="343.7" r="3.85" fill="#1f77b4"/>
<circle cx="537.8" cy="341.5" r="3.85" fill="#1f77b4"/>
<circle cx="516.8" cy="352.4" r="3.85" fill="#1f77b4"/>
<circle cx="521.8" cy="360.8" r="3.85" fill="#1f77b4"/>
<circle cx="525.6" cy="358.2" r="3.85" fill="#1f77b4"/>
<circle cx="517.4" cy="361.6" r="3.85" fill="#1f77b4"/>
<circle cx="518.0" cy="367.4" r="3.85" fill="#1f77b4"/>
<circle cx="474.3" cy="354.2" r="3.85" fill="#1f77b4"/>
<circle cx="477.5" cy="353.0" r="3.85" fill="#1f77b4"/>
<circle cx="499.9" cy="366.8" r="3.85" fill="#1f77b4"/>
<circle cx="495.3" cy="367.6" r="3.85" fill="#1f77b4"/>
<circle cx="502.8" cy="367.6" r="3.85" fill="#1f77b4"/>
<circle cx="227.2" cy="418.9" r="3.85" fill="#2ca02c"/>
<circle cx="226.2" cy="414.9" r="3.85" fill="#2ca02c"/>
<circle cx="257.6" cy="385.6" r="3.85" fill="#2ca02c"/>
<circle cx="257.0" cy="394.4" r="3.85" fill="#2ca02c"/>
<circle cx="265.0" cy="410.0" r="3.85" fill="#2ca02c"/>
<circle cx="270.3" cy="413.9" r="3.85" fill="#2ca02c"/>
<circle cx="244.0" cy="436.7" r="3.85" fill="#2ca02c"/>
<circle cx="246.4" cy="443.1" r="3.85" fill="#2ca02c"/>
<circle cx="248.2" cy="463.9" r="3.85" fill="#2ca02c"/>
<circle cx="290.9" cy="472.9" r="3.85" fill="#d62728"/>
<circle cx="271.0" cy="419.9" r="3.85" fill="#d62728"/>
<circle cx="260.4" cy="427.9" r="3.85" fill="#d62728"/>
<circle cx="282.1" cy="429.6" r="3.85" fill="#d62728"/>
<circle cx="270.0" cy="433.2" r="3.85" fill="#d62728"/>
<circle cx="277.0" cy="434.4" r="3.85" fill="#d62728"/>
<circle cx="282.8" cy="437.1" r="3.85" fill="#d62728"/>
<circle cx="286.6" cy="435.9" r="3.85" fill="#d62728"/>
<circle cx="272.2" cy="439.5" r="3.85" fill="#d62728"/>
<circle cx="266.6" cy="437.8" r="3.85" fill="#d62728"/>
<circle cx="278.5" cy="440.4" r="3.85" fill="#d62728"/>
<circle cx="252.9" cy="442.9" r="3.85" fill="#d62728"/>
<circle cx="256.7" cy="439.5" r="3.85" fill="#d62728"/>
<circle cx="260.3" cy="444.6" r="3.85" fill="#d62728"/>
<circle cx="265.7" cy="445.6" r="3.85" fill="#d62728"/>
<circle cx="270.3" cy="447.7" r="3.85" fill="#d62728"/>
<circle cx="276.6" cy="448.9" r="3.85" fill="#d62728"/>
<circle cx="259.2" cy="451.5" r="3.85" fill="#d62728"/>
<circle cx="265.6" cy="453.3" r="3.85" fill="#d62728"/>
<circle cx="294.1" cy="457.1" r="3.85" fill="#d62728"/>
<circle cx="294.0" cy="450.3" r="3.85" fill="#d62728"/>
<circle cx="289.6" cy="459.0" r="3.85" fill="#d62728"/>
<circle cx="251.4" cy="456.2" r="3.85" fill="#d62728"/>
<circle cx="256.1" cy="456.2" r="3.85" fill="#d62728"/>
<circle cx="269.6" cy="456.2" r="3.85" fill="#d62728"/>
<circle cx="274.8" cy="457.1" r="3.85" fill="#d62728"/>
<circle cx="268.3" cy="460.0" r="3.85" fill="#d62728"/>
<circle cx="260.1" cy="461.2" r="3.85" fill="#d62728"/>
<circle cx="274.8" cy="464.8" r="3.85" fill="#d62728"/>
<circle cx="282.6" cy="462.5" r="3.85" fill="#d62728"/>
<circle cx="290.6" cy="466.0" r="3.85" fill="#d62728"/>
<circle cx="290.3" cy="468.9" r="3.85" fill="#d62728"/>
<circle cx="259.4" cy="421.3" r="3.85" fill="#2ca02c"/>
<circle cx="469.3" cy="392.0" r="3.85" fill="#1f77b4"/>
<circle cx="471.3" cy="395.0" r="3.85" fill="#1f77b4"/>
<circle cx="476.1" cy="396.6" r="3.85" fill="#1f77b4"/>
<circle cx="478.3" cy="402.6" r="3.85" fill="#1f77b4"/>
<circle cx="484.9" cy="401.4" r="3.85" fill="#1f77b4"/>
<circle cx="488.1" cy="401.8" r="3.85" fill="#1f77b4"/>
<circle cx="451.8" cy="494.5" r="3.85" fill="#1f77b4"/>
<circle cx="451.8" cy="488.9" r="3.85" fill="#1f77b4"/>
<circle cx="468.8" cy="494.8" r="3.85" fill="#1f77b4"/>
<circle cx="426.9" cy="490.2" r="3.85" fill="#ff7f0e"/>
<circle cx="462.0" cy="487.0" r="3.85" fill="#ff7f0e"/>
<circle cx="466.9" cy="496.8" r="3.85" fill="#ff7f0e"/>
<circle cx="422.0" cy="498.0" r="3.85" fill="#ff7f0e"/>
<circle cx="440.0" cy="498.0" r="3.85" fill="#ff7f0e"/>
<circle cx="437.7" cy="503.8" r="3.85" fill="#ff7f0e"/>
<circle cx="436.0" cy="497.6" r="3.85" fill="#ff7f0e"/>
<circle cx="431.9" cy="503.8" r="3.85" fill="#ff7f0e"/>
<circle cx="428.2" cy="500.9" r="3.85" fill="#ff7f0e"/>
<circle cx="444.4" cy="506.4" r="3.85" fill="#ff7f0e"/>
<circle cx="452.4" cy="507.2" r="3.85" fill="#ff7f0e"/>
<circle cx="418.3" cy="508.6" r="3.85" fill="#ff7f0e"/>
<circle cx="452.8" cy="513.0" r="3.85" fill="#ff7f0e"/>
<circle cx="421.8" cy="514.4" r="3.85" fill="#ff7f0e"/>
<circle cx="426.8" cy="513.9" r="3.85" fill="#ff7f0e"/>
<circle cx="437.7" cy="515.1" r="3.85" fill="#ff7f0e"/>
<circle cx="432.7" cy="518.8" r="3.85" fill="#ff7f0e"/>
<circle cx="458.2" cy="517.1" r="3.85" fill="#ff7f0e"/>
<circle cx="444.7" cy="517.7" r="3.85" fill="#ff7f0e"/>
<circle cx="447.1" cy="521.4" r="3.85" fill="#ff7f0e"/>
<circle cx="424.4" cy="524.1" r="3.85" fill="#ff7f0e"/>
<circle cx="427.8" cy="526.7" r="3.85" fill="#ff7f0e"/>
<circle cx="440.6" cy="525.2" r="3.85" fill="#ff7f0e"/>
<circle cx="453.4" cy="525.2" r="3.85" fill="#ff7f0e"/>
<circle cx="437.1" cy="531.0" r="3.85" fill="#ff7f0e"/>
<circle cx="450.1" cy="531.0" r="3.85" fill="#ff7f0e"/>
<circle cx="444.1" cy="530.4" r="3.85" fill="#ff7f0e"/>
<circle cx="457.1" cy="532.8" r="3.85" fill="#ff7f0e"/>
<circle cx="430.4" cy="534.7" r="3.85" fill="#ff7f0e"/>
<circle cx="440.0" cy="536.2" r="3.85" fill="#ff7f0e"/>
<circle cx="452.8" cy="538.6" r="3.85" fill="#ff7f0e"/>
<circle cx="447.0" cy="535.7" r="3.85" fill="#ff7f0e"/>
<circle cx="435.0" cy="538.9" r="3.85" fill="#ff7f0e"/>
<circle cx="427.5" cy="542.3" r="3.85" fill="#ff7f0e"/>
<circle cx="441.8" cy="546.1" r="3.85" fill="#ff7f0e"/>
<circle cx="452.2" cy="547.2" r="3.85" fill="#ff7f0e"/>
<circle cx="448.8" cy="543.2" r="3.85" fill="#ff7f0e"/>
<circle cx="458.9" cy="545.5" r="3.85" fill="#ff7f0e"/>
<circle cx="437.3" cy="549.6" r="3.85" fill="#ff7f0e"/>
<circle cx="446.0" cy="549.6" r="3.85" fill="#1f77b4"/>
<circle cx="430.4" cy="554.8" r="3.85" fill="#ff7f0e"/>
<circle cx="444.7" cy="555.9" r="3.85" fill="#ff7f0e"/>
<circle cx="438.5" cy="555.9" r="3.85" fill="#ff7f0e"/>
<circle cx="614.9" cy="71.5" r="3.85" fill="#1f77b4"/>
<circle cx="615.9" cy="74.9" r="3.85" fill="#1f77b4"/>
<circle cx="613.1" cy="78.5" r="3.85" fill="#1f77b4"/>
<circle cx="627.3" cy="70.5" r="3.85" fill="#1f77b4"/>
<circle cx="622.3" cy="77.9" r="3.85" fill="#1f77b4"/>
<circle cx="623.3" cy="80.3" r="3.85" fill="#1f77b4"/>
<circle cx="626.5" cy="75.7" r="3.85" fill="#1f77b4"/>
<circle cx="638.3" cy="73.3" r="3.85" fill="#1f77b4"/>
<circle cx="636.5" cy="77.9" r="3.85" fill="#1f77b4"/>
<circle cx="633.7" cy="74.5" r="3.85" fill="#1f77b4"/>
<circle cx="625.1" cy="94.3" r="3.85" fill="#1f77b4"/>
<circle cx="635.9" cy="102.3" r="3.85" fill="#1f77b4"/>
<circle cx="639.7" cy="102.5" r="3.85" fill="#1f77b4"/>
<circle cx="569.8" cy="105.4" r="3.85" fill="#1f77b4"/>
<circle cx="564.6" cy="111.2" r="3.85" fill="#1f77b4"/>
<circle cx="565.8" cy="109.4" r="3.85" fill="#1f77b4"/>
<circle cx="647.3" cy="110.8" r="3.85" fill="#1f77b4"/>
<circle cx="646.3" cy="113.0" r="3.85" fill="#1f77b4"/>
<circle cx="638.1" cy="115.8" r="3.85" fill="#1f77b4"/>
<circle cx="632.5" cy="118.4" r="3.85" fill="#1f77b4"/>
<circle cx="687.2" cy="120.4" r="3.85" fill="#1f77b4"/>
<circle cx="682.8" cy="117.8" r="3.85" fill="#1f77b4"/>
<circle cx="692.8" cy="128.2" r="3.85" fill="#1f77b4"/>
<circle cx="690.0" cy="127.2" r="3.85" fill="#1f77b4"/>
<circle cx="671.8" cy="129.2" r="3.85" fill="#1f77b4"/>
<circle cx="696.9" cy="99.9" r="3.85" fill="#1f77b4"/>
<circle cx="713.9" cy="101.7" r="3.85" fill="#1f77b4"/>
<circle cx="713.9" cy="102.9" r="3.85" fill="#1f77b4"/>
<circle cx="706.9" cy="122.8" r="3.85" fill="#1f77b4"/>
<circle cx="706.9" cy="117.6" r="3.85" fill="#1f77b4"/>
<circle cx="710.5" cy="126.2" r="3.85" fill="#1f77b4"/>
<circle cx="732.5" cy="129.0" r="3.85" fill="#1f77b4"/>
<circle cx="701.3" cy="132.6" r="3.85" fill="#1f77b4"/>
<circle cx="688.8" cy="136.0" r="3.85" fill="#1f77b4"/>
<circle cx="682.2" cy="138.4" r="3.85" fill="#1f77b4"/>
<circle cx="665.4" cy="144.6" r="3.85" fill="#1f77b4"/>
<circle cx="670.6" cy="146.4" r="3.85" fill="#1f77b4"/>
<circle cx="675.0" cy="153.4" r="3.85" fill="#1f77b4"/>
<circle cx="677.4" cy="160.6" r="3.85" fill="#1f77b4"/>
<circle cx="632.9" cy="157.0" r="3.85" fill="#1f77b4"/>
<circle cx="610.3" cy="164.0" r="3.85" fill="#1f77b4"/>
<circle cx="605.9" cy="170.3" r="3.85" fill="#1f77b4"/>
<circle cx="604.9" cy="175.9" r="3.85" fill="#1f77b4"/>
<circle cx="594.9" cy="175.3" r="3.85" fill="#1f77b4"/>
<circle cx="642.1" cy="166.3" r="3.85" fill="#1f77b4"/>
<circle cx="649.3" cy="173.3" r="3.85" fill="#1f77b4"/>
<circle cx="655.3" cy="174.3" r="3.85" fill="#1f77b4"/>
<circle cx="662.6" cy="178.3" r="3.85" fill="#1f77b4"/>
<circle cx="669.4" cy="180.5" r="3.85" fill="#1f77b4"/>
<circle cx="679.8" cy="170.9" r="3.85" fill="#1f77b4"/>
<circle cx="685.2" cy="170.9" r="3.85" fill="#1f77b4"/>
<circle cx="692.8" cy="170.9" r="3.85" fill="#1f77b4"/>
<circle cx="678.4" cy="178.3" r="3.85" fill="#1f77b4"/>
<circle cx="623.9" cy="179.3" r="3.85" fill="#1f77b4"/>
<circle cx="642.9" cy="179.9" r="3.85" fill="#1f77b4"/>
<circle cx="650.3" cy="183.9" r="3.85" fill="#1f77b4"/>
<circle cx="643.9" cy="187.5" r="3.85" fill="#1f77b4"/>
<circle cx="630.9" cy="187.9" r="3.85" fill="#1f77b4"/>
<circle cx="634.5" cy="188.7" r="3.85" fill="#1f77b4"/>
<circle cx="651.9" cy="191.9" r="3.85" fill="#1f77b4"/>
<circle cx="670.2" cy="190.1" r="3.85" fill="#1f77b4"/>
<circle cx="687.8" cy="189.9" r="3.85" fill="#1f77b4"/>
<circle cx="692.4" cy="189.3" r="3.85" fill="#1f77b4"/>
<circle cx="681.2" cy="193.5" r="3.85" fill="#1f77b4"/>
<circle cx="664.0" cy="193.9" r="3.85" fill="#1f77b4"/>
<circle cx="669.4" cy="203.9" r="3.85" fill="#1f77b4"/>
<circle cx="665.4" cy="199.9" r="3.85" fill="#1f77b4"/>
<circle cx="654.3" cy="198.9" r="3.85" fill="#1f77b4"/>
<circle cx="651.9" cy="207.9" r="3.85" fill="#1f77b4"/>
<circle cx="656.2" cy="206.3" r="3.85" fill="#1f77b4"/>
<circle cx="647.5" cy="211.5" r="3.85" fill="#1f77b4"/>
<circle cx="608.5" cy="193.7" r="3.85" fill="#1f77b4"/>
<circle cx="619.5" cy="200.9" r="3.85" fill="#1f77b4"/>
<circle cx="614.5" cy="198.1" r="3.85" fill="#1f77b4"/>
<circle cx="625.5" cy="197.9" r="3.85" fill="#1f77b4"/>
<circle cx="621.1" cy="206.3" r="3.85" fill="#1f77b4"/>
<circle cx="637.5" cy="207.3" r="3.85" fill="#1f77b4"/>
<circle cx="630.5" cy="204.7" r="3.85" fill="#1f77b4"/>
<circle cx="635.7" cy="213.3" r="3.85" fill="#1f77b4"/>
<circle cx="610.3" cy="213.9" r="3.85" fill="#1f77b4"/>
<circle cx="606.9" cy="208.5" r="3.85" fill="#1f77b4"/>
<circle cx="627.3" cy="218.9" r="3.85" fill="#1f77b4"/>
<circle cx="626.3" cy="214.9" r="3.85" fill="#1f77b4"/>
<circle cx="640.9" cy="220.3" r="3.85" fill="#1f77b4"/>
<circle cx="628.5" cy="225.7" r="3.85" fill="#1f77b4"/>
<circle cx="565.4" cy="198.1" r="3.85" fill="#1f77b4"/>
<circle cx="582.3" cy="208.9" r="3.85" fill="#1f77b4"/>
<circle cx="582.3" cy="204.7" r="3.85" fill="#1f77b4"/>
<circle cx="560.0" cy="215.5" r="3.85" fill="#1f77b4"/>
<circle cx="578.0" cy="220.3" r="3.85" fill="#1f77b4"/>
<circle cx="586.1" cy="221.7" r="3.85" fill="#1f77b4"/>
<circle cx="558.0" cy="226.3" r="3.85" fill="#1f77b4"/>
<circle cx="564.4" cy="224.9" r="3.85" fill="#1f77b4"/>
<circle cx="572.4" cy="227.4" r="3.85" fill="#1f77b4"/>
<circle cx="571.0" cy="238.2" r="3.85" fill="#1f77b4"/>
<circle cx="568.0" cy="233.8" r="3.85" fill="#1f77b4"/>
<circle cx="588.9" cy="233.8" r="3.85" fill="#1f77b4"/>
<circle cx="545.0" cy="239.8" r="3.85" fill="#1f77b4"/>
<circle cx="550.0" cy="236.8" r="3.85" fill="#1f77b4"/>
<circle cx="581.3" cy="239.8" r="3.85" fill="#1f77b4"/>
<circle cx="585.5" cy="240.6" r="3.85" fill="#1f77b4"/>
<circle cx="577.4" cy="251.2" r="3.85" fill="#1f77b4"/>
<circle cx="603.5" cy="243.4" r="3.85" fill="#1f77b4"/>
<circle cx="615.5" cy="227.0" r="3.85" fill="#1f77b4"/>
<circle cx="616.9" cy="236.6" r="3.85" fill="#1f77b4"/>
<circle cx="622.9" cy="247.8" r="3.85" fill="#1f77b4"/>
<circle cx="622.9" cy="243.4" r="3.85" fill="#1f77b4"/>
<circle cx="632.9" cy="237.8" r="3.85" fill="#1f77b4"/>
<circle cx="632.1" cy="233.2" r="3.85" fill="#1f77b4"/>
<circle cx="639.5" cy="231.4" r="3.85" fill="#1f77b4"/>
<circle cx="651.9" cy="231.6" r="3.85" fill="#1f77b4"/>
<circle cx="655.3" cy="251.8" r="3.85" fill="#1f77b4"/>
<circle cx="655.5" cy="246.8" r="3.85" fill="#1f77b4"/>
<circle cx="655.3" cy="241.4" r="3.85" fill="#1f77b4"/>
<circle cx="662.6" cy="252.4" r="3.85" fill="#1f77b4"/>
<circle cx="647.9" cy="248.4" r="3.85" fill="#1f77b4"/>
<circle cx="642.5" cy="244.8" r="3.85" fill="#1f77b4"/>
<circle cx="664.6" cy="213.3" r="3.85" fill="#1f77b4"/>
<circle cx="675.8" cy="214.5" r="3.85" fill="#1f77b4"/>
<circle cx="679.2" cy="209.9" r="3.85" fill="#1f77b4"/>
<circle cx="691.6" cy="203.7" r="3.85" fill="#1f77b4"/>
<circle cx="671.8" cy="227.2" r="3.85" fill="#1f77b4"/>
<circle cx="693.4" cy="229.8" r="3.85" fill="#1f77b4"/>
<circle cx="689.2" cy="227.0" r="3.85" fill="#1f77b4"/>
<circle cx="679.2" cy="241.8" r="3.85" fill="#1f77b4"/>
<circle cx="678.4" cy="245.8" r="3.85" fill="#1f77b4"/>
<circle cx="673.8" cy="238.6" r="3.85" fill="#1f77b4"/>
<circle cx="671.0" cy="246.8" r="3.85" fill="#1f77b4"/>
<circle cx="684.8" cy="247.8" r="3.85" fill="#1f77b4"/>
<circle cx="595.5" cy="256.2" r="3.85" fill="#1f77b4"/>
<circle cx="696.9" cy="136.0" r="3.85" fill="#1f77b4"/>
<circle cx="701.9" cy="134.6" r="3.85" fill="#1f77b4"/>
<circle cx="707.9" cy="137.0" r="3.85" fill="#1f77b4"/>
<circle cx="712.9" cy="137.0" r="3.85" fill="#1f77b4"/>
<circle cx="697.5" cy="147.0" r="3.85" fill="#1f77b4"/>
<circle cx="713.5" cy="148.6" r="3.85" fill="#1f77b4"/>
<circle cx="725.9" cy="144.0" r="3.85" fill="#1f77b4"/>
<circle cx="731.5" cy="144.0" r="3.85" fill="#1f77b4"/>
<circle cx="722.3" cy="152.4" r="3.85" fill="#1f77b4"/>
<circle cx="722.5" cy="161.0" r="3.85" fill="#1f77b4"/>
<circle cx="723.9" cy="158.4" r="3.85" fill="#1f77b4"/>
<circle cx="730.9" cy="156.0" r="3.85" fill="#1f77b4"/>
<circle cx="695.9" cy="164.4" r="3.85" fill="#1f77b4"/>
<circle cx="715.3" cy="165.5" r="3.85" fill="#1f77b4"/>
<circle cx="697.9" cy="172.3" r="3.85" fill="#1f77b4"/>
<circle cx="738.9" cy="168.9" r="3.85" fill="#1f77b4"/>
<circle cx="743.9" cy="168.3" r="3.85" fill="#1f77b4"/>
<circle cx="735.3" cy="170.9" r="3.85" fill="#1f77b4"/>
<circle cx="726.7" cy="178.5" r="3.85" fill="#1f77b4"/>
<circle cx="729.5" cy="185.3" r="3.85" fill="#1f77b4"/>
<circle cx="732.9" cy="189.3" r="3.85" fill="#1f77b4"/>
<circle cx="730.9" cy="193.9" r="3.85" fill="#1f77b4"/>
<circle cx="719.9" cy="196.5" r="3.85" fill="#1f77b4"/>
<circle cx="716.9" cy="193.9" r="3.85" fill="#1f77b4"/>
<circle cx="705.3" cy="192.9" r="3.85" fill="#1f77b4"/>
<circle cx="707.3" cy="203.3" r="3.85" fill="#1f77b4"/>
<circle cx="723.1" cy="201.9" r="3.85" fill="#1f77b4"/>
<circle cx="722.1" cy="213.9" r="3.85" fill="#1f77b4"/>
<circle cx="722.1" cy="209.3" r="3.85" fill="#1f77b4"/>
<circle cx="742.9" cy="192.3" r="3.85" fill="#1f77b4"/>
<circle cx="746.9" cy="191.5" r="3.85" fill="#1f77b4"/>
<circle cx="751.2" cy="189.9" r="3.85" fill="#1f77b4"/>
<circle cx="750.2" cy="209.9" r="3.85" fill="#1f77b4"/>
<circle cx="750.2" cy="212.9" r="3.85" fill="#1f77b4"/>
<circle cx="741.9" cy="217.3" r="3.85" fill="#1f77b4"/>
<circle cx="747.8" cy="220.5" r="3.85" fill="#1f77b4"/>
<circle cx="694.9" cy="216.3" r="3.85" fill="#1f77b4"/>
<circle cx="701.7" cy="227.2" r="3.85" fill="#1f77b4"/>
<circle cx="709.1" cy="225.5" r="3.85" fill="#1f77b4"/>
<circle cx="554.0" cy="261.0" r="3.85" fill="#1f77b4"/>
<circle cx="556.0" cy="267.0" r="3.85" fill="#1f77b4"/>
<circle cx="566.4" cy="266.0" r="3.85" fill="#1f77b4"/>
<circle cx="596.5" cy="260.4" r="3.85" fill="#1f77b4"/>
<circle cx="628.9" cy="260.0" r="3.85" fill="#1f77b4"/>
<circle cx="634.3" cy="264.0" r="3.85" fill="#1f77b4"/>
<circle cx="647.9" cy="265.0" r="3.85" fill="#1f77b4"/>
<circle cx="652.7" cy="263.4" r="3.85" fill="#1f77b4"/>
<circle cx="541.0" cy="272.0" r="3.85" fill="#1f77b4"/>
<circle cx="581.3" cy="273.0" r="3.85" fill="#1f77b4"/>
<circle cx="582.9" cy="269.0" r="3.85" fill="#1f77b4"/>
<circle cx="554.4" cy="276.6" r="3.85" fill="#1f77b4"/>
<circle cx="562.0" cy="273.4" r="3.85" fill="#1f77b4"/>
<circle cx="545.0" cy="281.4" r="3.85" fill="#1f77b4"/>
<circle cx="557.4" cy="285.0" r="3.85" fill="#1f77b4"/>
<circle cx="611.5" cy="275.0" r="3.85" fill="#1f77b4"/>
<circle cx="599.3" cy="280.4" r="3.85" fill="#1f77b4"/>
<circle cx="599.9" cy="289.0" r="3.85" fill="#1f77b4"/>
<circle cx="600.9" cy="284.0" r="3.85" fill="#1f77b4"/>
<circle cx="578.0" cy="287.0" r="3.85" fill="#1f77b4"/>
<circle cx="627.3" cy="284.0" r="3.85" fill="#1f77b4"/>
<circle cx="640.9" cy="286.6" r="3.85" fill="#1f77b4"/>
<circle cx="637.9" cy="283.2" r="3.85" fill="#1f77b4"/>
<circle cx="649.1" cy="285.4" r="3.85" fill="#1f77b4"/>
<circle cx="683.4" cy="272.0" r="3.85" fill="#1f77b4"/>
<circle cx="686.8" cy="271.0" r="3.85" fill="#1f77b4"/>
<circle cx="686.8" cy="284.0" r="3.85" fill="#1f77b4"/>
<circle cx="691.8" cy="292.9" r="3.85" fill="#1f77b4"/>
<circle cx="691.8" cy="287.4" r="3.85" fill="#1f77b4"/>
<circle cx="548.4" cy="292.1" r="3.85" fill="#1f77b4"/>
<circle cx="592.3" cy="290.3" r="3.85" fill="#1f77b4"/>
<circle cx="596.5" cy="292.9" r="3.85" fill="#1f77b4"/>
<circle cx="591.3" cy="293.9" r="3.85" fill="#1f77b4"/>
<circle cx="574.0" cy="295.3" r="3.85" fill="#1f77b4"/>
<circle cx="620.3" cy="293.5" r="3.85" fill="#1f77b4"/>
<circle cx="628.5" cy="295.1" r="3.85" fill="#1f77b4"/>
<circle cx="637.9" cy="292.5" r="3.85" fill="#1f77b4"/>
<circle cx="670.4" cy="294.1" r="3.85" fill="#1f77b4"/>
<circle cx="680.2" cy="295.9" r="3.85" fill="#1f77b4"/>
<circle cx="691.0" cy="300.5" r="3.85" fill="#1f77b4"/>
<circle cx="571.4" cy="303.5" r="3.85" fill="#1f77b4"/>
<circle cx="579.3" cy="302.5" r="3.85" fill="#1f77b4"/>
<circle cx="568.6" cy="311.1" r="3.85" fill="#1f77b4"/>
<circle cx="577.6" cy="310.3" r="3.85" fill="#1f77b4"/>
<circle cx="612.5" cy="304.5" r="3.85" fill="#1f77b4"/>
<circle cx="611.5" cy="309.5" r="3.85" fill="#1f77b4"/>
<circle cx="624.5" cy="304.3" r="3.85" fill="#1f77b4"/>
<circle cx="626.7" cy="311.1" r="3.85" fill="#1f77b4"/>
<circle cx="647.3" cy="304.3" r="3.85" fill="#1f77b4"/>
<circle cx="633.5" cy="311.3" r="3.85" fill="#1f77b4"/>
<circle cx="636.9" cy="313.9" r="3.85" fill="#1f77b4"/>
<circle cx="612.9" cy="316.5" r="3.85" fill="#1f77b4"/>
<circle cx="613.9" cy="321.9" r="3.85" fill="#1f77b4"/>
<circle cx="616.5" cy="326.9" r="3.85" fill="#1f77b4"/>
<circle cx="614.9" cy="331.9" r="3.85" fill="#1f77b4"/>
<circle cx="593.9" cy="316.5" r="3.85" fill="#1f77b4"/>
<circle cx="596.5" cy="318.5" r="3.85" fill="#1f77b4"/>
<circle cx="589.1" cy="324.1" r="3.85" fill="#1f77b4"/>
<circle cx="602.1" cy="325.3" r="3.85" fill="#1f77b4"/>
<circle cx="606.3" cy="330.3" r="3.85" fill="#1f77b4"/>
<circle cx="603.3" cy="333.1" r="3.85" fill="#1f77b4"/>
<circle cx="561.8" cy="322.5" r="3.85" fill="#1f77b4"/>
<circle cx="546.0" cy="325.1" r="3.85" fill="#1f77b4"/>
<circle cx="565.6" cy="330.7" r="3.85" fill="#1f77b4"/>
<circle cx="560.0" cy="332.1" r="3.85" fill="#1f77b4"/>
<circle cx="573.0" cy="331.9" r="3.85" fill="#1f77b4"/>
<circle cx="576.0" cy="334.3" r="3.85" fill="#1f77b4"/>
<circle cx="554.6" cy="337.1" r="3.85" fill="#1f77b4"/>
<circle cx="557.6" cy="342.5" r="3.85" fill="#1f77b4"/>
<circle cx="553.6" cy="345.9" r="3.85" fill="#1f77b4"/>
<circle cx="551.4" cy="351.0" r="3.85" fill="#1f77b4"/>
<circle cx="543.0" cy="341.5" r="3.85" fill="#1f77b4"/>
<circle cx="542.6" cy="351.8" r="3.85" fill="#1f77b4"/>
<circle cx="632.9" cy="335.1" r="3.85" fill="#1f77b4"/>
<circle cx="582.3" cy="344.1" r="3.85" fill="#1f77b4"/>
<circle cx="586.9" cy="348.9" r="3.85" fill="#1f77b4"/>
<circle cx="592.5" cy="345.9" r="3.85" fill="#1f77b4"/>
<circle cx="598.1" cy="344.5" r="3.85" fill="#1f77b4"/>
<circle cx="612.9" cy="342.5" r="3.85" fill="#1f77b4"/>
<circle cx="615.9" cy="349.3" r="3.85" fill="#1f77b4"/>
<circle cx="610.9" cy="347.3" r="3.85" fill="#1f77b4"/>
<circle cx="617.5" cy="356.8" r="3.85" fill="#1f77b4"/>
<circle cx="612.9" cy="362.0" r="3.85" fill="#1f77b4"/>
<circle cx="619.5" cy="363.6" r="3.85" fill="#1f77b4"/>
<circle cx="569.4" cy="365.2" r="3.85" fill="#1f77b4"/>
<circle cx="541.6" cy="378.8" r="3.85" fill="#1f77b4"/>
<circle cx="672.0" cy="275.0" r="3.85" fill="#2ca02c"/>
<circle cx="617.3" cy="278.0" r="3.85" fill="#2ca02c"/>
<circle cx="670.6" cy="273.6" r="3.85" fill="#2ca02c"/>
<circle cx="694.3" cy="263.0" r="3.85" fill="#1f77b4"/>
<circle cx="703.5" cy="285.4" r="3.85" fill="#1f77b4"/>
</g>
<g stroke="#2a2a2a" stroke-width="1.04" fill="none">
<line x1="121.2" y1="582.2" x2="121.2" y2="586.8000000000001"/>
<line x1="248.8" y1="582.2" x2="248.8" y2="586.8000000000001"/>
<line x1="376.4" y1="582.2" x2="376.4" y2="586.8000000000001"/>
<line x1="504.0" y1="582.2" x2="504.0" y2="586.8000000000001"/>
<line x1="631.6" y1="582.2" x2="631.6" y2="586.8000000000001"/>
<line x1="759.2" y1="582.2" x2="759.2" y2="586.8000000000001"/>
<line x1="55.5" y1="117.1" x2="50.9" y2="117.1"/>
<line x1="55.5" y1="245.4" x2="50.9" y2="245.4"/>
<line x1="55.5" y1="374.2" x2="50.9" y2="374.2"/>
<line x1="55.5" y1="502.9" x2="50.9" y2="502.9"/>
<path d="M55.5 1.4V582.2H784.55V1.4" stroke-linejoin="miter" stroke-linecap="square"/>
<line x1="54.98" y1="1.35" x2="785.0699999999999" y2="1.35" stroke-width="1.3"/>
</g>
<g font-family="DejaVu Sans, Liberation Sans, sans-serif" fill="#1c1c1c" stroke="#1c1c1c" stroke-width="0.22">
<text transform="translate(121.20,602.00) scale(0.94,1)" text-anchor="middle" font-size="14">−40</text>
<text transform="translate(248.80,602.00) scale(0.94,1)" text-anchor="middle" font-size="14">−20</text>
<text transform="translate(376.40,602.00) scale(0.96,1)" text-anchor="middle" font-size="14">0</text>
<text transform="translate(504.00,602.00) scale(0.96,1)" text-anchor="middle" font-size="14">20</text>
<text transform="translate(631.60,602.00) scale(0.96,1)" text-anchor="middle" font-size="14">40</text>
<text transform="translate(759.20,602.00) scale(0.96,1)" text-anchor="middle" font-size="14">60</text>
<text transform="translate(46.40,122.45) scale(0.96,1)" text-anchor="end" font-size="14">20</text>
<text transform="translate(46.40,250.75) scale(0.96,1)" text-anchor="end" font-size="14">0</text>
<text transform="translate(46.40,379.55) scale(0.94,1)" text-anchor="end" font-size="14">−20</text>
<text transform="translate(46.40,508.25) scale(0.94,1)" text-anchor="end" font-size="14">−40</text>
<text transform="translate(419.30,619.80) scale(0.993,1)" text-anchor="middle" font-size="14">t-SNE Feature 1</text>
<text transform="translate(10.00,292.60) rotate(-90) scale(0.993,1)" text-anchor="middle" font-size="14">t-SNE Feature 2</text>
</g>
<rect x="62.1" y="453.5" width="103.9" height="123" rx="2.6" ry="2.6" fill="#fff" fill-opacity="0.8" stroke="#d0d0d0" stroke-width="1.1"/>
<circle cx="80.4" cy="485.7" r="4.55" fill="#1f77b4"/>
<circle cx="80.4" cy="505.4" r="4.55" fill="#ff7f0e"/>
<circle cx="80.4" cy="525.1" r="4.55" fill="#2ca02c"/>
<circle cx="80.4" cy="544.7" r="4.55" fill="#d62728"/>
<circle cx="80.4" cy="564.4" r="4.55" fill="#9467bd"/>
<g font-family="DejaVu Sans, Liberation Sans, sans-serif" fill="#1c1c1c" stroke="#1c1c1c" stroke-width="0.22">
<text transform="translate(103.70,468.60) scale(0.955,1)" text-anchor="start" font-size="13.6">detail</text>
<text transform="translate(103.70,489.00) scale(0.955,1)" text-anchor="start" font-size="13.6">LUSC-01</text>
<text transform="translate(103.70,508.68) scale(0.955,1)" text-anchor="start" font-size="13.6">LUSC-11</text>
<text transform="translate(103.70,528.36) scale(0.955,1)" text-anchor="start" font-size="13.6">LUAD-01</text>
<text transform="translate(103.70,548.04) scale(0.955,1)" text-anchor="start" font-size="13.6">LUAD-11</text>
<text transform="translate(103.70,567.72) scale(0.955,1)" text-anchor="start" font-size="13.6">LUAD-02</text>
</g>
</svg>
</body></html>
